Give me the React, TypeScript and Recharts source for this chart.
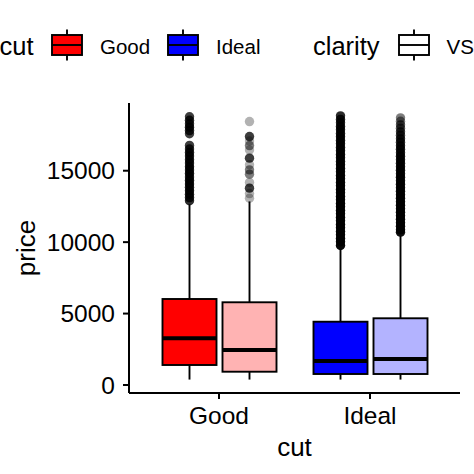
import { ComposedChart, Bar, XAxis, YAxis } from 'recharts'

const CUTS = ['Good', 'Ideal']
const CLARITIES = ['VS1', 'VS2']

// [lower whisker, Q1, median, Q3, upper whisker] per cut
const VS1_BOX = [
  [380, 1400, 3270, 6020, 12650],
  [380, 770, 1680, 4430, 9500],
]
const VS2_BOX = [
  [380, 930, 2450, 5790, 12850],
  [380, 770, 1820, 4670, 10450],
]

// outliers per cut: [price, overlapping points]
const VS1_OUT = [
  [
    [18780, 4], [18530, 5], [18280, 5], [18050, 6], [17810, 5], [17590, 4],
    [16770, 4], [16520, 5], [16270, 6], [16030, 6], [15770, 6], [15540, 6],
    [15280, 7], [15050, 6], [14810, 7], [14560, 6], [14320, 7], [14070, 7],
    [13840, 6], [13590, 7], [13350, 6], [13120, 6], [12900, 5],
  ],
  [
    [18840, 5], [18590, 6], [18360, 6], [18100, 7], [17870, 7], [17610, 7],
    [17380, 8], [17120, 8], [16890, 8], [16630, 8], [16400, 9], [16140, 9],
    [15910, 9], [15650, 9], [15420, 10], [15160, 10], [14930, 10], [14670, 10],
    [14440, 11], [14180, 11], [13950, 11], [13690, 12], [13460, 12], [13200, 12],
    [12970, 12], [12710, 13], [12480, 13], [12220, 13], [11990, 14], [11730, 14],
    [11500, 14], [11240, 14], [11010, 15], [10750, 14], [10520, 14], [10260, 13],
    [10030, 12], [9770, 10],
  ],
]
const VS2_OUT = [
  [
    [18440, 1], [17390, 4], [17080, 1], [16760, 2], [16450, 1], [15880, 4],
    [15420, 1], [15060, 2], [14760, 2], [14180, 1], [13780, 4], [13400, 1],
    [13075, 1],
  ],
  [
    [18700, 2], [18460, 2], [18210, 3], [17980, 3], [17720, 4], [17490, 4],
    [17230, 5], [17000, 5], [16740, 6], [16510, 6], [16250, 6], [16020, 7],
    [15760, 7], [15530, 7], [15270, 8], [15040, 8], [14780, 8], [14550, 9],
    [14290, 9], [14060, 9], [13800, 10], [13570, 10], [13310, 10], [13080, 11],
    [12820, 11], [12590, 11], [12330, 12], [12100, 12], [11840, 12], [11610, 12],
    [11350, 12], [11120, 11], [10860, 10], [10700, 8],
  ],
]

const Y_TICKS = [0, 5000, 10000, 15000]
const Y_DOMAIN = [-560, 19740]

const CUT_FILL = ['#FF0000', '#0000FF']
const CUT_FILL_LIGHT = ['#FFB3B3', '#B3B3FF']

const FONT = '"Liberation Sans", Arial, Helvetica, sans-serif'

const rows = CUTS.map((cut, i) => ({
  cut,
  vs1: VS1_BOX[i],
  vs2: VS2_BOX[i],
  vs1Out: VS1_OUT[i],
  vs2Out: VS2_OUT[i],
}))

function makeBoxShape(key: 'vs1' | 'vs2', fills: string[]) {
  return (props: any) => {
    const { x, y, width, height, payload, index } = props
    const stats: number[] = payload[key]
    const outs: number[][] = payload[key + 'Out']
    const lo = stats[0]
    const hi = stats[4]
    // map price to pixel using the bar's own scaled extent
    const py = (v: number) => y + (height * (hi - v)) / (hi - lo)
    const cx = x + width / 2
    return (
      <g>
        <line x1={cx} x2={cx} y1={py(lo)} y2={py(stats[1])} stroke="#000" strokeWidth={1.9} />
        <line x1={cx} x2={cx} y1={py(stats[3])} y2={py(hi)} stroke="#000" strokeWidth={1.9} />
        <rect
          x={x}
          y={py(stats[3])}
          width={width}
          height={py(stats[1]) - py(stats[3])}
          fill={fills[index]}
          stroke="#000"
          strokeWidth={1.9}
        />
        <line x1={x} x2={x + width} y1={py(stats[2])} y2={py(stats[2])} stroke="#000" strokeWidth={4} />
        {outs.map(([v, n], k) => (
          <circle key={k} cx={cx} cy={py(v)} r={4.7} fill="#000" fillOpacity={1 - Math.pow(0.7, n)} />
        ))}
      </g>
    )
  }
}

function LegendKey({ x, fill }: { x: number; fill: string }) {
  return (
    <g>
      <line x1={x + 15} x2={x + 15} y1={29.5} y2={60.5} stroke="#000" strokeWidth={1.9} />
      <rect x={x} y={35} width={30} height={20} fill={fill} stroke="#000" strokeWidth={1.9} />
      <line x1={x} x2={x + 30} y1={45} y2={45} stroke="#000" strokeWidth={1.9} />
    </g>
  )
}

function TopLegend() {
  return (
    <svg
      width={474}
      height={80}
      style={{ position: 'absolute', left: 0, top: 0, fontFamily: FONT }}
    >
      <text x={33.5} y={55} textAnchor="end" fontSize={25.5} fill="#000">cut</text>
      <LegendKey x={52} fill={CUT_FILL[0]} />
      <text x={100} y={54} fontSize={20.5} fill="#000">{CUTS[0]}</text>
      <LegendKey x={168} fill={CUT_FILL[1]} />
      <text x={216} y={54} fontSize={20.5} fill="#000">{CUTS[1]}</text>
      <text x={313} y={55} fontSize={25.5} fill="#000">clarity</text>
      <LegendKey x={399} fill="#FFFFFF" />
      <text x={446.5} y={54} fontSize={20.5} fill="#000">{CLARITIES[0]}</text>
    </svg>
  )
}

export default function App() {
  return (
    <div style={{ position: 'relative', width: 474, height: 474, fontFamily: FONT, background: '#fff' }}>
      <style>{'body{margin:0}'}</style>
      <ComposedChart
        width={474}
        height={474}
        data={rows}
        margin={{ top: 103, right: 14, bottom: 0, left: 0 }}
        barSize={54}
        barGap={6}
        style={{ fontFamily: FONT }}
      >
        <XAxis
          dataKey="cut"
          height={81}
          padding={{ left: 14.5, right: 14.5 }}
          axisLine={{ stroke: '#000', strokeWidth: 2 }}
          tickLine={{ stroke: '#000', strokeWidth: 2 }}
          tickSize={6}
          tickMargin={8}
          tick={{ fill: '#000', fontSize: 24.5 }}
          label={{ value: 'cut', position: 'insideBottom', offset: 18, fill: '#000', fontSize: 26 }}
        />
        <YAxis
          type="number"
          domain={Y_DOMAIN}
          ticks={Y_TICKS}
          width={129}
          axisLine={{ stroke: '#000', strokeWidth: 2 }}
          tickLine={{ stroke: '#000', strokeWidth: 2 }}
          tickSize={6}
          tickMargin={8}
          tick={{ fill: '#000', fontSize: 24.5 }}
          label={{
            content: (p: any) => {
              const vb = p.viewBox || { x: 0, y: 103, width: 129, height: 290 }
              const lx = vb.x + 26
              const ly = vb.y + vb.height / 2
              return (
                <text
                  x={lx}
                  y={ly}
                  transform={`rotate(-90, ${lx}, ${ly})`}
                  textAnchor="middle"
                  dominantBaseline="central"
                  fontSize={26}
                  fill="#000"
                  fontFamily={FONT}
                >
                  price
                </text>
              )
            },
          }}
        />
        <Bar
          dataKey={(d: any) => [d.vs1[0], d.vs1[4]]}
          name={CLARITIES[0]}
          shape={makeBoxShape('vs1', CUT_FILL)}
          isAnimationActive={false}
        />
        <Bar
          dataKey={(d: any) => [d.vs2[0], d.vs2[4]]}
          name={CLARITIES[1]}
          shape={makeBoxShape('vs2', CUT_FILL_LIGHT)}
          isAnimationActive={false}
        />
      </ComposedChart>
      <TopLegend />
    </div>
  )
}
